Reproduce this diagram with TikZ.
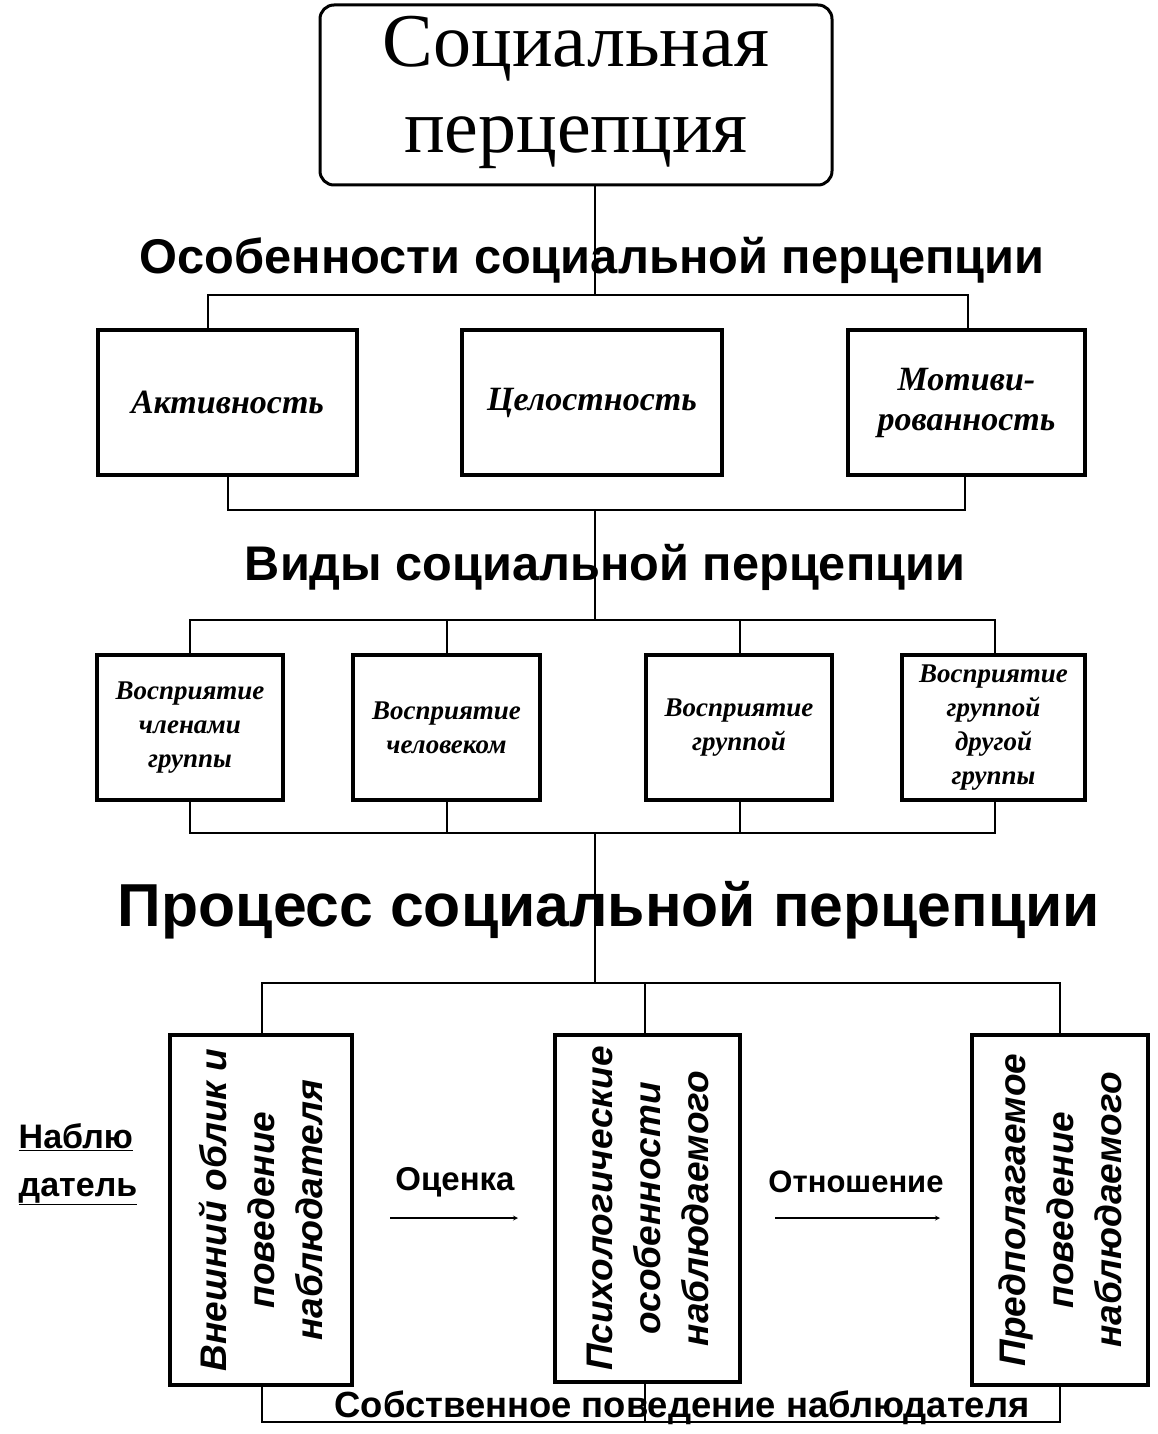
\documentclass[tikz,border=0pt]{standalone}
\usepackage{fontspec}
\setmainfont{Liberation Serif}
\setsansfont{Liberation Sans}
\begin{document}
\begin{tikzpicture}[x=1pt,y=-1pt,
  ln/.style={line width=1.5pt},
  bx/.style={draw,line width=4pt,inner sep=0pt},
  hd/.style={inner sep=0pt,font=\sffamily\bfseries},
  fb/.style={font=\bfseries\itshape\fontsize{34}{40}\selectfont,align=center},
  sb/.style={font=\bfseries\itshape\fontsize{27}{34}\selectfont,align=center},
  vb/.style={font=\sffamily\bfseries\itshape\fontsize{37}{48}\selectfont,align=center,rotate=90}]
\useasboundingbox (0,0) rectangle (1158,1434);
% title
\node[draw,line width=3pt,rounded corners=14pt,minimum width=512pt,minimum height=180pt] (t) at (576,95) {};
\node[font=\fontsize{76}{86}\selectfont,align=center] at (576,92) {Социальная\\перцепция};
% heading 1
\coordinate (b1) at (595,295);
\draw[ln] (t.south -| b1) -- (b1);
\node[hd] (h1) at (592,260) {\resizebox{905pt}{!}{Особенности социальной перцепции}};
\node[bx,minimum width=259pt,minimum height=145pt,fb] (a1) at (227.5,402.5) {Активность};
\node[bx,minimum width=260pt,minimum height=145pt,fb] (a2) at (592,402.5) {Целостность};
\node[bx,minimum width=237pt,minimum height=145pt,fb] (a3) at (966.5,402.5) {Мотиви-\\рованность};
\draw[ln] (208,330) -- (208,295) -- (968,295) -- (968,330);
\draw[ln] (228,475) -- (228,510) -- (965,510) -- (965,475);
% heading 2
\draw[ln] (595,510) -- (595,620);
\node[hd] (h2) at (605,567) {\resizebox{720pt}{!}{Виды социальной перцепции}};
\node[bx,minimum width=186pt,minimum height=145pt,sb] (v1) at (190,727.5) {Восприятие\\членами\\группы};
\node[bx,minimum width=187pt,minimum height=145pt,sb] (v2) at (446.5,727.5) {Восприятие\\человеком};
\node[bx,minimum width=186pt,minimum height=145pt,sb] (v3) at (739,727.5) {Восприятие\\группой};
\node[bx,minimum width=183pt,minimum height=145pt,sb] (v4) at (993.5,727.5) {Восприятие\\группой\\другой\\группы};
\draw[ln] (190,655) -- (190,620) -- (995,620) -- (995,655);
\draw[ln] (447,620) -- (447,655) (740,620) -- (740,655);
\draw[ln] (190,800) -- (190,833) -- (995,833) -- (995,800);
\draw[ln] (447,800) -- (447,833) (740,800) -- (740,833);
% heading 3
\draw[ln] (595,833) -- (595,983);
\node[hd] (h3) at (609,910) {\resizebox{982pt}{!}{Процесс социальной перцепции}};
\node[bx,minimum width=182pt,minimum height=350pt] (p1) at (261,1210) {};
\node[vb] at (p1) {Внешний облик и\\поведение\\наблюдателя};
\node[bx,minimum width=185pt,minimum height=347pt] (p2) at (647.5,1208.5) {};
\node[vb] at (p2) {Психологические\\особенности\\наблюдаемого};
\node[bx,minimum width=176pt,minimum height=350pt] (p3) at (1060,1210) {};
\node[vb] at (p3) {Предполагаемое\\поведение\\наблюдаемого};
\draw[ln] (262,1035) -- (262,983) -- (1060,983) -- (1060,1035);
\draw[ln] (645,983) -- (645,1035);
\draw[ln] (262,1385) -- (262,1422) -- (1060,1422) -- (1060,1385);
\draw[ln] (645,1382) -- (645,1422);
\node[hd] (own) at (682,1408) {\resizebox{695pt}{!}{Собственное поведение наблюдателя}};
\node[hd,font=\sffamily\bfseries\fontsize{34}{48}\selectfont,align=left] (nab) at (78,1164) {\underline{Наблю}\\\underline{датель}};
\node[hd,font=\sffamily\bfseries\fontsize{33}{38}\selectfont] (oc) at (455,1182) {Оценка};
\node[hd,font=\sffamily\bfseries\fontsize{31}{38}\selectfont] (ot) at (856,1182) {Отношение};
\coordinate (o1) at (390,1218); \coordinate (o2) at (518,1218);
\coordinate (r1) at (775,1218); \coordinate (r2) at (940,1218);
\draw[line width=1.2pt,-stealth] (o1) -- (o2);
\draw[line width=1.2pt,-stealth] (r1) -- (r2);
\end{tikzpicture}
\end{document}
